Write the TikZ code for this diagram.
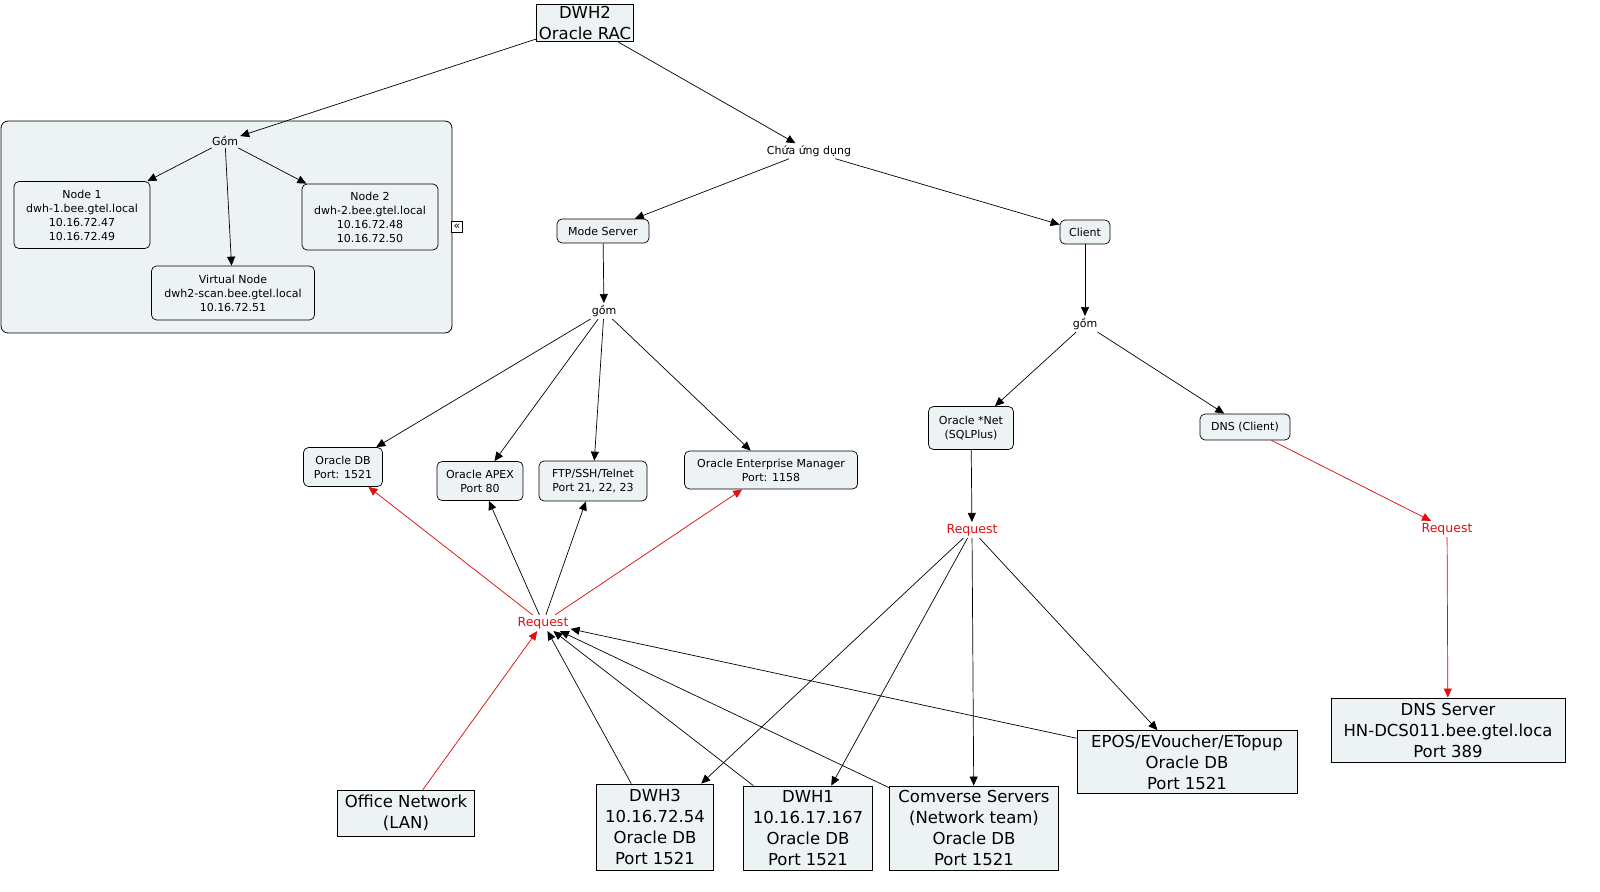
\documentclass[tikz,border=0pt]{standalone}
\usepackage{fontspec}
\setmainfont{DejaVu Sans}
\usetikzlibrary{arrows.meta}
\definecolor{bx}{HTML}{EDF2F4}
\definecolor{rq}{HTML}{E01010}
\begin{document}
\begin{tikzpicture}[x=1pt,y=-1pt,
 big/.style={draw,fill=bx,align=center,font=\fontsize{16.5}{21}\selectfont,inner sep=2pt,line width=0.8pt},
 sm/.style={draw,fill=bx,rounded corners=5pt,align=center,font=\fontsize{11}{14}\selectfont,inner sep=3pt,line width=0.7pt},
 lab/.style={font=\fontsize{11}{14}\selectfont,inner sep=2pt},
 req/.style={font=\fontsize{12.5}{15}\selectfont,text=rq,inner sep=2pt},
 ar/.style={-{Triangle[length=9pt,width=8pt]},line width=0.7pt},
 ra/.style={ar,draw=rq,fill=rq}]
\useasboundingbox (0,0) rectangle (1600,891);
\draw[fill=bx,rounded corners=7pt,line width=0.8pt] (1,121) rectangle (452,333);
\node[draw,fill=white,inner sep=0.5pt,minimum size=11pt,font=\fontsize{11}{11}\selectfont] (col) at (457,227) {«};
\node[big] (dwh2) at (585,23) {DWH2\\Oracle RAC};
\node[lab] (gom1) at (225,141) {Gồm};
\node[sm,minimum width=136pt,minimum height=67pt] (n1) at (82,215) {Node 1\\dwh-1.bee.gtel.local\\10.16.72.47\\10.16.72.49};
\node[sm,minimum width=136pt,minimum height=66pt] (n2) at (370,217) {Node 2\\dwh-2.bee.gtel.local\\10.16.72.48\\10.16.72.50};
\node[sm,minimum width=163pt,minimum height=54pt] (vn) at (233,293) {Virtual Node\\dwh2-scan.bee.gtel.local\\10.16.72.51};
\node[lab] (chua) at (809,151) {Chứa ứng dụng};
\node[sm,minimum width=92pt,minimum height=24pt] (ms) at (603,231) {Mode Server};
\node[sm,minimum width=50pt,minimum height=24pt] (cl) at (1085,232) {Client};
\node[lab] (gom2) at (604,311) {gồm};
\node[lab] (gom3) at (1085,324) {gồm};
\node[sm,minimum width=79pt,minimum height=39pt] (odb) at (343,467) {Oracle DB\\Port: 1521};
\node[sm,minimum width=86pt,minimum height=39pt] (apex) at (480,481) {Oracle APEX\\Port 80};
\node[sm,minimum width=108pt,minimum height=40pt] (ftp) at (593,481) {FTP/SSH/Telnet\\Port 21, 22, 23};
\node[sm,minimum width=173pt,minimum height=38pt] (oem) at (771,470) {Oracle Enterprise Manager\\Port: 1158};
\node[sm,minimum width=85pt,minimum height=43pt] (onet) at (971,428) {Oracle *Net\\(SQLPlus)};
\node[sm,minimum width=90pt,minimum height=26pt] (dnsc) at (1245,427) {DNS (Client)};
\node[req] (r1) at (543,623) {Request};
\node[req] (r2) at (972,530) {Request};
\node[req] (r3) at (1447,529) {Request};
\node[big,minimum width=234pt,minimum height=64pt] (dns) at (1448,730) {DNS Server\\HN-DCS011.bee.gtel.loca\\Port 389};
\node[big,minimum width=220pt,minimum height=63pt] (epos) at (1187,762) {EPOS/EVoucher/ETopup\\Oracle DB\\Port 1521};
\node[big,minimum width=137pt,minimum height=46pt] (off) at (406,813) {Office Network\\(LAN)};
\node[big,minimum width=117pt,minimum height=86pt] (d3) at (655,827) {DWH3\\10.16.72.54\\Oracle DB\\Port 1521};
\node[big,minimum width=129pt,minimum height=84pt] (d1) at (808,828) {DWH1\\10.16.17.167\\Oracle DB\\Port 1521};
\node[big,minimum width=169pt,minimum height=84pt] (cv) at (974,828) {Comverse Servers\\(Network team)\\Oracle DB\\Port 1521};
\draw[ar] (dwh2) -- (gom1);
\draw[ar] (dwh2) -- (chua);
\draw[ar] (gom1) -- (n1);
\draw[ar] (gom1) -- (n2);
\draw[ar] (gom1) -- (vn);
\draw[ar] (chua) -- (ms);
\draw[ar] (chua) -- (cl);
\draw[ar] (ms) -- (gom2);
\draw[ar] (cl) -- (gom3);
\draw[ar] (gom2) -- (odb);
\draw[ar] (gom2) -- (apex);
\draw[ar] (gom2) -- (ftp);
\draw[ar] (gom2) -- (oem);
\draw[ar] (gom3) -- (onet);
\draw[ar] (gom3) -- (dnsc);
\draw[ar] (onet) -- (r2);
\draw[ra] (dnsc) -- (r3);
\draw[ra] (r3) -- (dns);
\draw[ra] (r1) -- (odb);
\draw[ra] (r1) -- (oem);
\draw[ar] (r1) -- (apex);
\draw[ar] (r1) -- (ftp);
\draw[ra] (off) -- (r1);
\draw[ar] (d3) -- (r1);
\draw[ar] (d1) -- (r1);
\draw[ar] (cv) -- (r1);
\draw[ar] (epos) -- (r1);
\draw[ar] (r2) -- (d3);
\draw[ar] (r2) -- (d1);
\draw[ar] (r2) -- (cv);
\draw[ar] (r2) -- (epos);
\end{tikzpicture}
\end{document}
